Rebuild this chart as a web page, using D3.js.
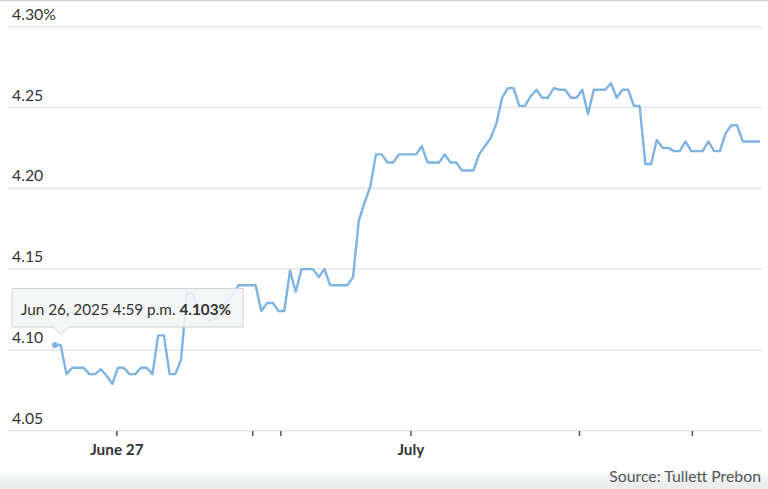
<!DOCTYPE html>
<html>
<head>
<meta charset="utf-8">
<script src="https://cdn.jsdelivr.net/npm/d3@7"></script>
<style>
    body { margin: 0; background: #ffffff; }
    svg { display: block; font-family: Lato, "Open Sans", sans-serif; }
</style>
</head>
<body>
<div class="yield-chart"></div>
<script>
// 10-year yield, one point per sample (Jun 26 4:59 p.m. -> Jul 3)
let yields = [
    4.103, 4.103, 4.085, 4.089, 4.089, 4.089, 4.085, 4.085, 4.088, 4.084,
    4.079, 4.089, 4.089, 4.085, 4.085, 4.089, 4.089, 4.085, 4.109, 4.109,
    4.085, 4.085, 4.094, 4.135, 4.135, 4.126, 4.120, 4.118, 4.120, 4.125,
    4.130, 4.134, 4.140, 4.140, 4.140, 4.140, 4.124, 4.129, 4.129, 4.124,
    4.124, 4.149, 4.136, 4.150, 4.150, 4.150, 4.145, 4.150, 4.140, 4.140,
    4.140, 4.140, 4.145, 4.180, 4.191, 4.201, 4.221, 4.221, 4.216, 4.216,
    4.221, 4.221, 4.221, 4.221, 4.226, 4.216, 4.216, 4.216, 4.221, 4.216,
    4.216, 4.211, 4.211, 4.211, 4.221, 4.226, 4.231, 4.240, 4.256, 4.262,
    4.262, 4.251, 4.251, 4.257, 4.261, 4.256, 4.256, 4.262, 4.261, 4.261,
    4.256, 4.256, 4.261, 4.246, 4.261, 4.261, 4.261, 4.265, 4.256, 4.261,
    4.261, 4.251, 4.251, 4.215, 4.215, 4.230, 4.225, 4.225, 4.223, 4.223,
    4.229, 4.223, 4.223, 4.223, 4.229, 4.223, 4.223, 4.234, 4.239, 4.239,
    4.229, 4.229, 4.229, 4.229
];

// x ticks sit between samples (day boundaries)
let tick_positions = [10.8, 34.5, 39.4, 62.1, 91.5, 111.2];
let tick_labels = ["June 27", "", "", "July", "", ""];

let y_ticks = [4.05, 4.10, 4.15, 4.20, 4.25, 4.30];
let y_labels = ["4.05", "4.10", "4.15", "4.20", "4.25", "4.30%"];

let tooltip_date = "Jun 26, 2025 4:59 p.m. ";
let tooltip_value = "4.103%";
let source_text = "Source: Tullett Prebon";

function draw_chart(){
    const width = 768;
    const height = 489;

    const svg = d3.select('.yield-chart')
        .append('svg')
        .attr('width', width)
        .attr('height', height)

    const x = d3.scaleLinear()
        .domain([0, yields.length - 1])
        .range([55, 760]);

    const y = d3.scaleLinear()
        .domain([4.05, 4.30])
        .range([430.7, 26.7]);

    // page strip at the bottom
    const grad = svg.append("defs")
        .append("linearGradient")
        .attr("id", "strip")
        .attr("x1", 0).attr("y1", 0)
        .attr("x2", 0).attr("y2", 1);
    grad.append("stop").attr("offset", "0%").attr("stop-color", "#f3f7f7");
    grad.append("stop").attr("offset", "100%").attr("stop-color", "#e9eaea");

    svg.append("rect")
        .attr("x", 0)
        .attr("y", 474)
        .attr("width", width)
        .attr("height", height - 474)
        .attr("fill", "url(#strip)");

    svg.append("line")
        .attr("x1", 0).attr("x2", width)
        .attr("y1", 0.5).attr("y2", 0.5)
        .attr("stroke", "#d6d6d6")
        .attr("stroke-width", 1.5);

    // gridlines + y labels
    svg.selectAll(".grid")
        .data(y_ticks)
        .enter()
        .append("line")
        .attr("class", "grid")
        .attr("x1", 8)
        .attr("x2", 762)
        .attr("y1", function(d){ return y(d); })
        .attr("y2", function(d){ return y(d); })
        .attr("stroke", "#e6e6e6")
        .attr("stroke-width", 1.5);

    svg.selectAll(".y-label")
        .data(y_ticks)
        .enter()
        .append("text")
        .attr("class", "y-label")
        .attr("x", 12)
        .attr("y", function(d){ return y(d) - 7; })
        .attr("font-size", "15.8px")
        .attr("fill", "#333")
        .text(function(d, i){ return y_labels[i]; });

    // x axis ticks
    svg.selectAll(".x-tick")
        .data(tick_positions)
        .enter()
        .append("line")
        .attr("class", "x-tick")
        .attr("x1", function(d){ return x(d); })
        .attr("x2", function(d){ return x(d); })
        .attr("y1", 431)
        .attr("y2", 436)
        .attr("stroke", "#555")
        .attr("stroke-width", 1.5);

    svg.selectAll(".x-label")
        .data(tick_positions)
        .enter()
        .append("text")
        .attr("class", "x-label")
        .attr("x", function(d){ return x(d); })
        .attr("y", 455)
        .attr("text-anchor", "middle")
        .attr("font-size", "15.3px")
        .attr("font-weight", "bold")
        .attr("fill", "#333")
        .text(function(d, i){ return tick_labels[i]; });

    // the line
    const line = d3.line()
        .x(function(d, i){ return x(i); })
        .y(function(d){ return y(d); });

    svg.append("path")
        .datum(yields)
        .attr("d", line)
        .attr("fill", "none")
        .attr("stroke", "#7fb3e1")
        .attr("stroke-width", 2.4)
        .attr("stroke-linejoin", "round");

    svg.append("circle")
        .attr("cx", x(0))
        .attr("cy", y(yields[0]))
        .attr("r", 3)
        .attr("fill", "#7fb3e1");

    // tooltip on first point
    const tip_x = x(0) + 6;
    const tip_y = y(yields[0]) - 11;
    const left = 12, right = 243, top = 288.5, bottom = 327;
    const tip_path = "M" + left + "," + top +
        " L" + right + "," + top +
        " L" + right + "," + bottom +
        " L" + (tip_x + 8) + "," + bottom +
        " L" + tip_x + "," + (tip_y) +
        " L" + (tip_x - 8) + "," + bottom +
        " L" + left + "," + bottom + " Z";

    svg.append("path")
        .attr("d", tip_path)
        .attr("fill", "#f4f5f5")
        .attr("fill-opacity", 0.88)
        .attr("stroke", "#cfd3d3")
        .attr("stroke-width", 1);

    const tip_text = svg.append("text")
        .attr("x", 21)
        .attr("y", 315)
        .attr("font-size", "15.3px")
        .attr("fill", "#333");
    tip_text.append("tspan").text(tooltip_date);
    tip_text.append("tspan").attr("font-weight", "bold").text(tooltip_value);

    svg.append("text")
        .attr("x", 761)
        .attr("y", 482)
        .attr("text-anchor", "end")
        .attr("font-size", "15.8px")
        .attr("fill", "#555")
        .text(source_text);
}

draw_chart();
</script>
</body>
</html>
